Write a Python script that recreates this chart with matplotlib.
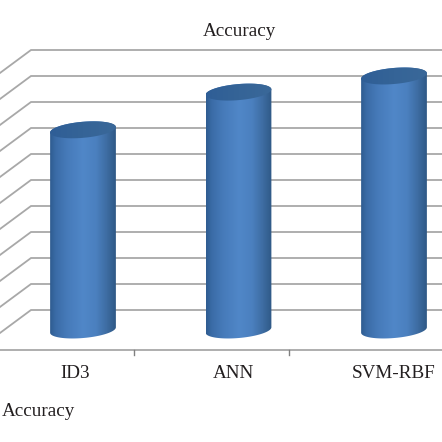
import numpy as np
import matplotlib
matplotlib.use("Agg")
import matplotlib.pyplot as plt
from matplotlib.colors import LinearSegmentedColormap
from matplotlib.patches import Polygon

categories = ["ID3", "ANN", "SVM-RBF"]
accuracy = [77.0, 91.5, 97.7]
grid_values = [0, 10, 20, 30, 40, 50, 60, 70, 80, 90, 100]

plt.rcParams["font.family"] = ["Liberation Serif", "DejaVu Serif"]

# scale of the axes, pixels per category and per value unit
px_cat = 155.5
px_val = 2.6

fig = plt.figure(figsize=(4.42, 4.42), dpi=100)
ax = fig.add_axes([0, 0, 1, 1])
ax.set_xlim(-83 / px_cat, 359 / px_cat)
ax.set_ylim(-132 / px_val, 310 / px_val)
ax.axis("off")

# fake 3d depth of the floor
depth_x = 54 / px_cat
depth_y = 40 / px_val
grid_col = "#a8a8a8"

wall_x = 31 / px_cat - 83 / px_cat
for v in grid_values:
    ax.plot([wall_x - depth_x, wall_x, 2.4], [v - depth_y, v, v],
            color=grid_col, lw=1.3, solid_joinstyle="miter", zorder=1)

# front edge of the floor and the ticks between categories
ax.plot([-1, 3], [-depth_y, -depth_y], color=grid_col, lw=1.3, zorder=1)
for i in range(len(categories) - 1):
    tx = i + 0.5 - depth_x / 2
    ax.plot([tx, tx], [-depth_y, -depth_y - 5 / px_val], color="#808080", lw=1.0, zorder=1)

body_cmap = LinearSegmentedColormap.from_list(
    "body", [(0, "#2f5c90"), (0.08, "#3a6ba6"), (0.25, "#467ab9"), (0.5, "#5087c8"),
             (0.7, "#4b80bf"), (0.86, "#3e6da3"), (1, "#2f5986")])
top_cmap = LinearSegmentedColormap.from_list(
    "top", [(0, "#2f5e96"), (0.5, "#356497"), (1, "#3a6899")])

# the bars stand half way back on the floor
base = -depth_y / 2


def ellipse_xy(xc, yc, t):
    # slightly tilted ellipse, rising to the right
    a, b, tilt = 33, 8.0, np.radians(5)
    x = a * np.cos(t) * np.cos(tilt) - b * np.sin(t) * np.sin(tilt)
    y = a * np.cos(t) * np.sin(tilt) + b * np.sin(t) * np.cos(tilt)
    return xc + x / px_cat, yc + y / px_val


for i, val in enumerate(accuracy):
    top = base + val
    # bottom half going left to right, then top side back
    xb, yb = ellipse_xy(i, base, np.linspace(np.pi, 2 * np.pi, 60))
    xt, yt = ellipse_xy(i, top, np.linspace(0, np.pi, 60))
    body = Polygon(np.column_stack([np.r_[xb, xt], np.r_[yb, yt]]), fc="none", ec="none")
    ax.add_patch(body)
    half = 33 / px_cat
    im = ax.imshow(np.linspace(0, 1, 128)[None, :], cmap=body_cmap, aspect="auto",
                   extent=[i - half, i + half, base - 10, top + 10], zorder=2)
    im.set_clip_path(body)

    xe, ye = ellipse_xy(i, top, np.linspace(0, 2 * np.pi, 120))
    lid = Polygon(np.column_stack([xe, ye]), fc="none", ec="none")
    ax.add_patch(lid)
    im2 = ax.imshow(np.linspace(0, 1, 64)[None, :], cmap=top_cmap, aspect="auto",
                    extent=[i - half, i + half, top - 10, top + 10], zorder=3)
    im2.set_clip_path(lid)

ax.set_xlim(-83 / px_cat, 359 / px_cat)
ax.set_ylim(-132 / px_val, 310 / px_val)

txt_col = "#231f20"
fs = 13.8
label_offset = [-7.5, -5, -0.5]
for i, name in enumerate(categories):
    ax.text(i + label_offset[i] / px_cat, -63 / px_val, name, ha="center", va="center",
            fontsize=fs, color=txt_col)
ax.text(157 / px_cat, 279 / px_val, "Accuracy", ha="center", va="center", fontsize=fs, color=txt_col)
ax.text(-81 / px_cat, -101.5 / px_val, "Accuracy", ha="left", va="center", fontsize=fs, color=txt_col)

fig.savefig("out.png", dpi=100)
